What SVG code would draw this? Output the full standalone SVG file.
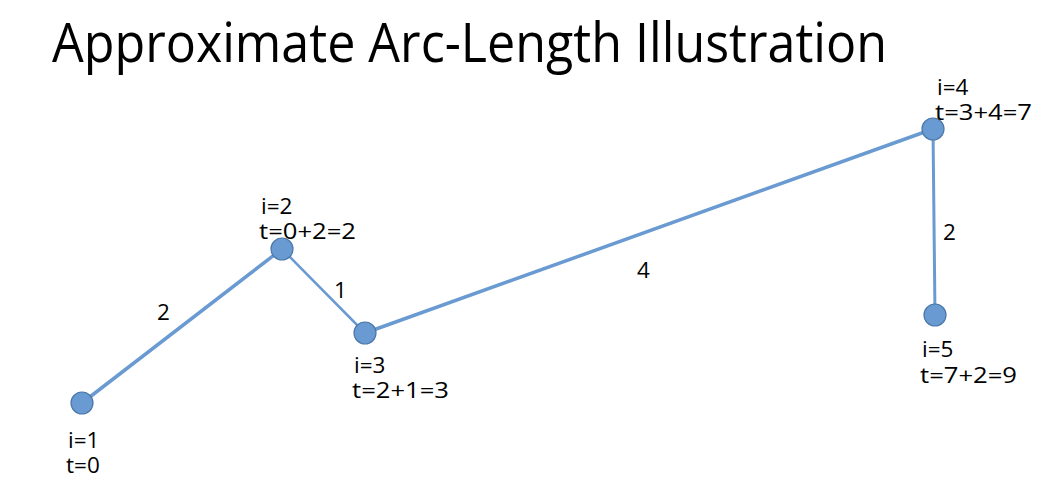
<svg xmlns="http://www.w3.org/2000/svg" width="1052" height="498" viewBox="0 0 1052 498">
<style>
.t{font-family:"Open Sans","Liberation Sans",sans-serif;fill:#000}
.lbl{font-size:22.5px}
.e{stroke:#6A9AD2;fill:none;stroke-linecap:round}
.n{fill:#6A9AD2;stroke:#4A78A8;stroke-width:1.2}
</style>
<rect width="1052" height="498" fill="#fff"/>
<text class="t" x="52" y="62" font-size="55" textLength="835" lengthAdjust="spacingAndGlyphs">Approximate Arc-Length Illustration</text>
<g id="connectors">
<line class="e" x1="82" y1="403" x2="282" y2="249" stroke-width="3.5"/>
<line class="e" x1="282" y1="249" x2="365" y2="333" stroke-width="2.5"/>
<line class="e" x1="365" y1="333" x2="933" y2="129" stroke-width="3.5"/>
<line class="e" x1="933" y1="129" x2="935" y2="315" stroke-width="3"/>
<text class="t lbl" x="157" y="320">2</text>
<text class="t lbl" x="334" y="298">1</text>
<text class="t lbl" x="637" y="278">4</text>
<text class="t lbl" x="943" y="240">2</text>
</g>
<g id="node1">
<circle class="n" cx="82" cy="403" r="11"/>
<text class="t lbl" x="68" y="448">i=1</text>
<text class="t lbl" x="66" y="473">t=0</text>
</g>
<g id="node2">
<circle class="n" cx="282" cy="249" r="11"/>
<text class="t lbl" x="261" y="214">i=2</text>
<text class="t lbl" x="259" y="239" textLength="97" lengthAdjust="spacingAndGlyphs">t=0+2=2</text>
</g>
<g id="node3">
<circle class="n" cx="365" cy="333" r="11"/>
<text class="t lbl" x="354" y="373">i=3</text>
<text class="t lbl" x="352" y="398" textLength="97" lengthAdjust="spacingAndGlyphs">t=2+1=3</text>
</g>
<g id="node4">
<circle class="n" cx="933" cy="129" r="11"/>
<text class="t lbl" x="937" y="95">i=4</text>
<text class="t lbl" x="935" y="120" textLength="97" lengthAdjust="spacingAndGlyphs">t=3+4=7</text>
</g>
<g id="node5">
<circle class="n" cx="935" cy="315" r="11"/>
<text class="t lbl" x="922" y="357">i=5</text>
<text class="t lbl" x="920" y="383" textLength="97" lengthAdjust="spacingAndGlyphs">t=7+2=9</text>
</g>
</svg>
